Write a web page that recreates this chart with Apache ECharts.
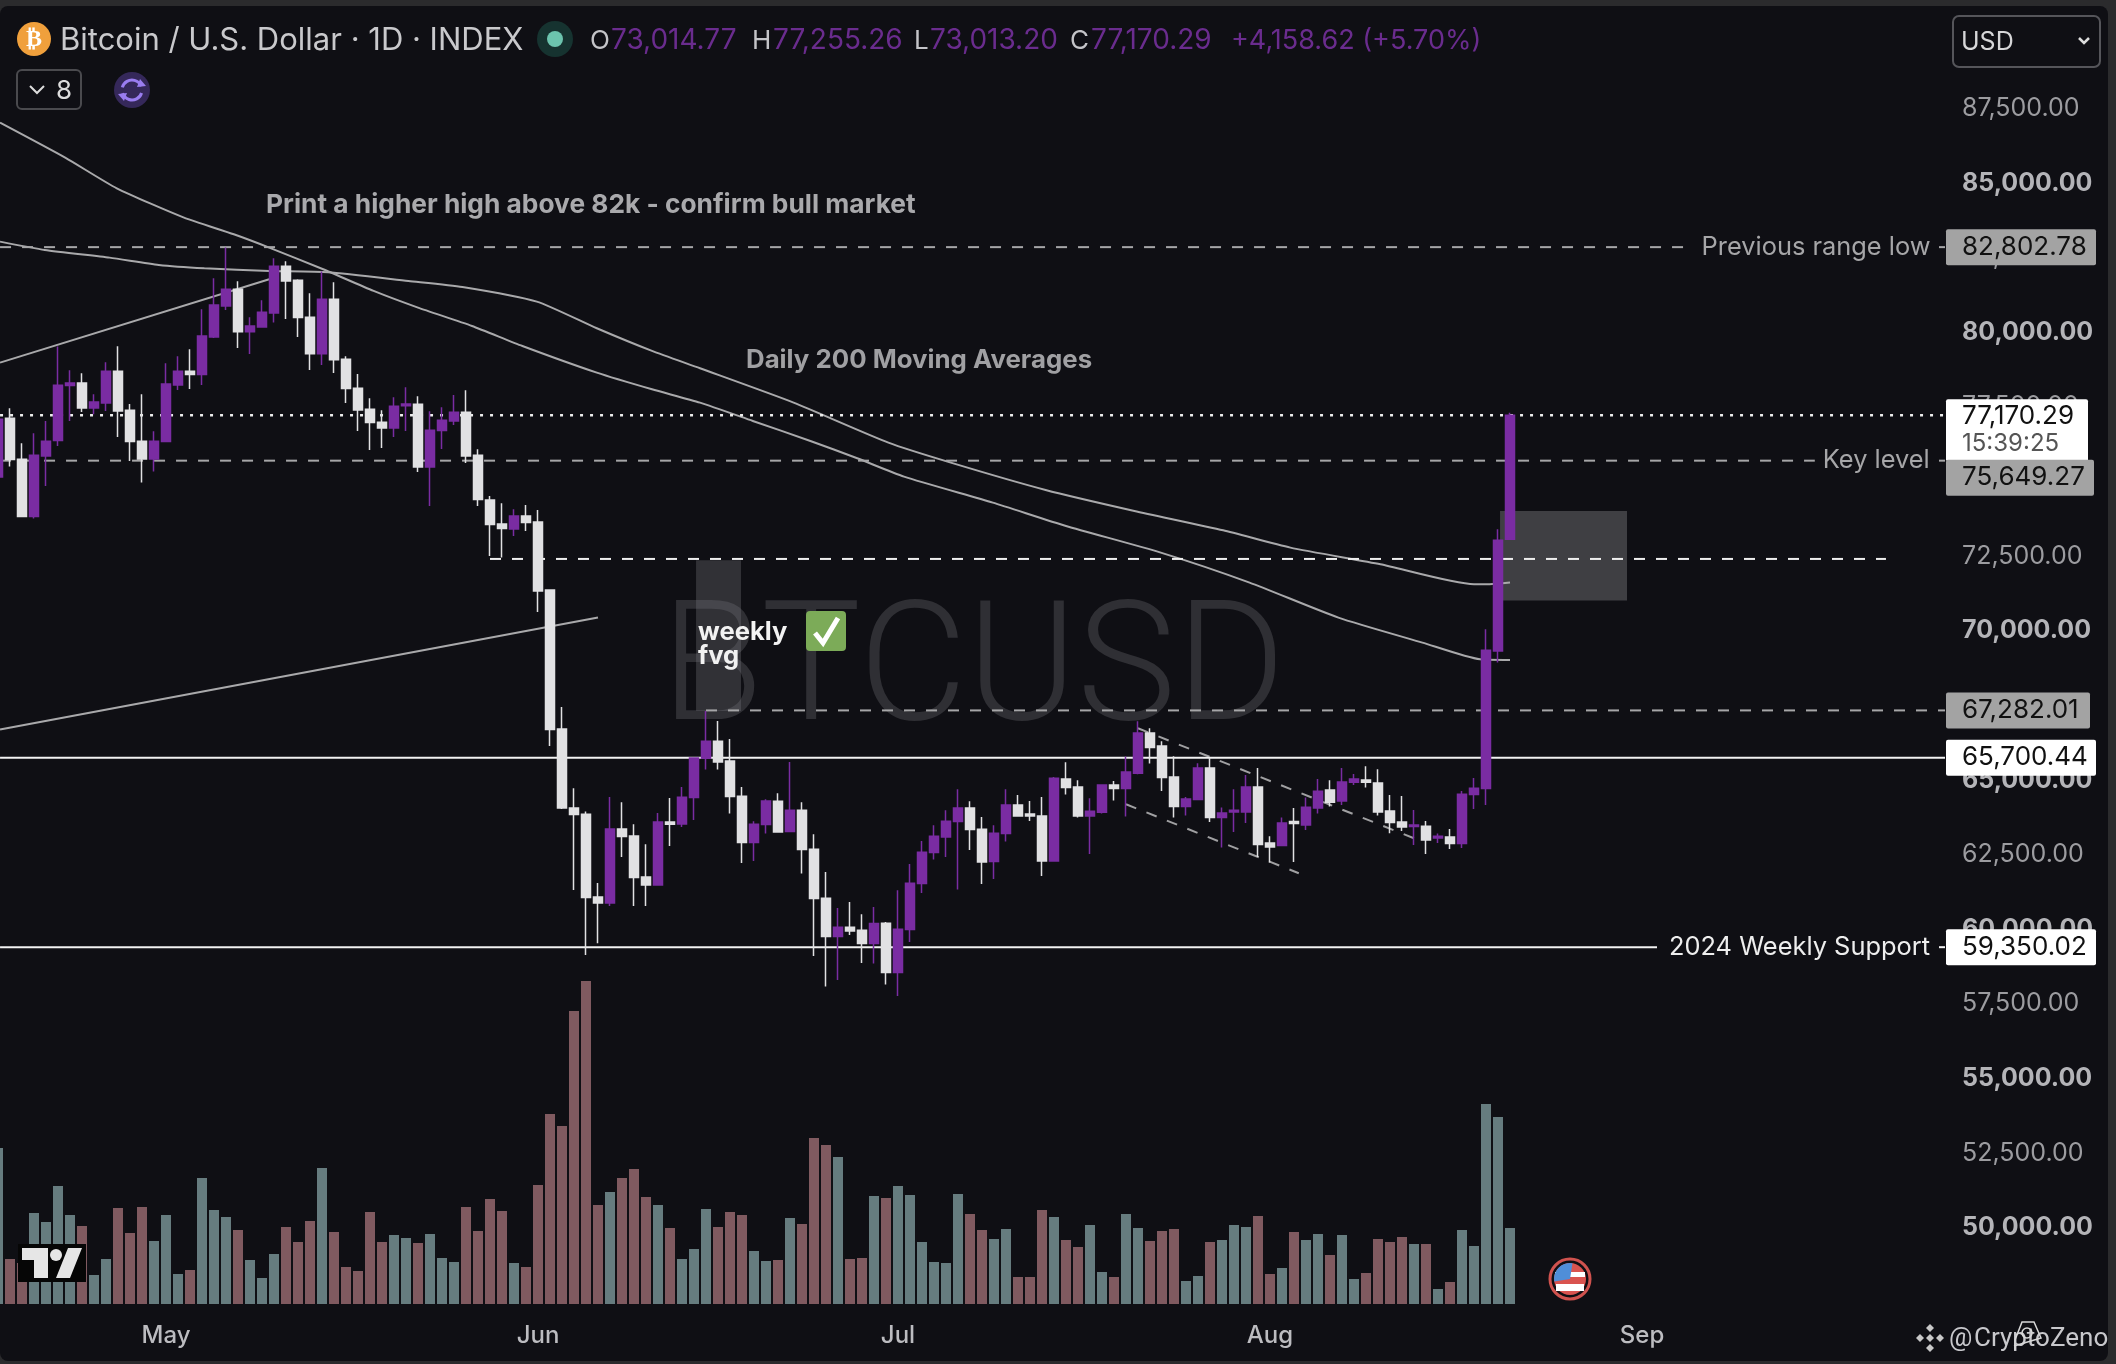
<!DOCTYPE html>
<html><head><meta charset="utf-8">
<style>html,body{margin:0;padding:0;background:#2b2b2d;overflow:hidden;width:2116px;height:1364px}#c{position:absolute;left:-8px;top:0;width:2124px;height:1364px}</style>
<script src="https://cdn.jsdelivr.net/npm/echarts@6/dist/echarts.min.js"></script>
</head><body><div id="c"></div>
<script>
const opens=[75104,77069,75696,73775,75807,76321,78164,78253,77415,77583,78644,77337,76299,75707,76287,78186,78644,78532,79794,80832,81391,79972,80129,80598,82161,81692,80453,79235,81056,79046,78074,77371,76935,76745,77493,77538,75439,76656,76980,77270,75830,74333,73529,73362,73797,73596,71318,66662,64015,63803,61034,60833,63312,63077,61704,61436,63546,63479,64362,65679,66249,65590,64406,62854,63457,64239,63222,63937,62630,60989,59705,60017,59917,59470,60151,58499,59939,61480,62519,63044,63557,64015,63300,62218,63155,64116,63814,63747,62240,64987,64719,63747,63870,64786,64663,65177,66528,66092,65054,64060,64295,65355,63692,63881,63881,64719,62843,62754,63557,63446,64015,64618,64250,64875,64953,64853,63915,63546,63390,63401,63010,63044,62821,64462,64663,69275,73014.77];
const closes=[77036,75684,73775,75830,76299,78175,78253,77415,77616,78644,77315,76287,75707,76299,78219,78644,78532,79827,80866,81391,79972,80162,80620,82161,81670,80442,79235,81056,79034,78063,77348,76924,76745,77471,77549,75439,76667,77002,77270,75807,74344,73507,73373,73797,73574,71285,66640,64015,63792,61011,60833,63312,63055,61681,61436,63546,63468,64373,65690,66249,65556,64395,62854,63468,64250,63211,63937,62619,60978,59705,60017,59895,59470,60140,58499,59950,61492,62530,63066,63569,64015,63289,62206,63167,64116,63747,63747,62240,65009,64697,63747,63904,64786,64663,65221,66528,66037,65032,64060,64317,65355,63692,63848,63937,64719,62787,62709,63513,63491,64038,64574,64205,64886,64987,64875,63881,63524,63379,63446,62943,63066,62821,64473,64674,69297,72982,77170.29];
const lows=[75050,75450,73750,73708,74802,76142,76980,77281,77203,77315,76444,75640,74914,75282,76287,78018,78052,78186,79760,80698,79425,79224,80107,80274,80397,79794,78688,78856,78588,77583,76645,76008,76075,76444,76645,75271,74132,76042,76846,75573,74132,72457,72402,73127,73295,70581,66092,63982,61268,59091,59482,60732,62374,60732,60732,61436,62742,63379,63613,65299,65299,63825,62173,62240,63155,63189,63222,61815,59057,58030,58253,59761,58822,58800,58097,57717,59526,61168,62284,62374,61279,62608,61470,61636,62887,63747,63580,61737,62217,64462,63692,62474,63826,64261,63725,65143,65501,64585,63692,63759,64272,63546,62687,63211,63513,62374,62184,62754,62206,63278,63826,64060,64116,64786,64697,63759,63167,63245,62776,62474,62843,62642,62675,63982,64116,68884,73013.20];
const highs=[77315,77404,76232,76567,76980,79470,78677,78577,77873,78945,79481,77549,77873,76634,78912,79146,79381,80721,81759,82787,81659,80453,81022,82429,82329,81726,81257,81983,81625,79146,78554,77739,77337,77773,78108,77806,77304,77438,77851,78007,76031,74467,74222,74021,74166,74000,71318,67399,64674,63892,61503,64384,64205,63468,62798,63848,64350,64719,65701,67265,66930,66327,64719,63569,64306,64507,65556,64205,63133,61871,60665,60866,60453,60699,60196,61257,62139,62910,63435,63937,64641,64239,63714,63435,64641,64451,64250,64384,65054,65545,64942,64339,64808,64920,65735,66919,66684,66249,65746,64384,65512,65702,64026,64641,65121,65355,63066,63692,64015,64361,64987,64942,65355,65154,65411,65311,64451,64417,63949,63580,63155,63312,64585,65020,70001,73351,77255.26];
const volumes=[156,45,41,91,82,118,89,78,29,45,96,71,97,63,89,30,34,126,94,87,74,44,26,50,77,62,83,136,72,37,33,92,62,69,66,61,70,46,42,97,73,105,93,41,37,119,190,178,293,323,99,112,126,135,107,99,76,45,55,95,77,92,89,53,43,44,86,80,166,159,147,45,46,108,106,118,109,62,42,41,110,90,74,65,75,27,27,94,87,64,57,79,32,27,90,76,63,73,75,23,28,62,64,79,77,88,30,36,72,64,70,49,69,25,31,65,62,67,60,60,15,22,74,58,200,187,76];
const maUpper=[[0.17,86974],[5.6,85802],[9.9,84774],[15.5,83792],[19.65,83233],[22.6,82787],[27.1,82061],[31.3,81335],[35,80776],[39.5,80162],[43.7,79492],[49.9,78599],[54.5,78040],[58.5,77594],[62.9,76980],[67.7,76310],[71.6,75729],[75.5,75115],[82.9,74244],[89,73462],[96.9,72569],[104.3,71564],[111.7,70391],[118.7,69554],[123.5,68995],[126,68973]];
const maLower=[[0.17,82987],[3.9,82708],[9.3,82451],[13.4,82206],[17.2,82094],[22.6,82005],[27.5,81960],[34.2,81670],[38.7,81469],[44.9,80977],[49.9,80084],[54.5,79325],[58.5,78744],[66.3,77594],[74.2,76254],[79.4,75584],[87.3,74668],[94.7,73965],[102.1,73317],[107.7,72736],[115.2,72178],[123,71508],[124.3,71508],[126,71564]];
const trendA=[[0.17,78934],[22.6,81726]];
const trendB=[[0.17,66640],[50,70392]];
const channelUpper=[[95,66684],[118,62999]];
const channelLower=[[94,64138],[108.4,61826]];
const levels={prevLow:82802.78,last:77170.29,key:75649.27,mid:72357,fvgLow:67282.01,res:65700.44,sup:59350.02};
const zoneRight=[125.17,135.75,70961,73965];
const zoneFvg=[58.17,61.92,67265,72312];
const monthTicks={14:'May',45:'Jun',75:'Jul',106:'Aug',137:'Sep'};
const yMin=47500,yMax=90000,yStep=2500;
const totalBars=163;
const categories=[];
{const d=new Date(Date.UTC(2024,3,17));for(let i=0;i<totalBars;i++){categories.push(d.toISOString().slice(5,10));d.setUTCDate(d.getUTCDate()+1);}}

const FONT='Inter';
const BG='#0f0f14',PURPLE='#7a2ca2',WHITE='#e1e1e3',GRAY='#a6a6a8',TAG='#a3a3a3';
const candle=opens.map((o,i)=>[o,closes[i],lows[i],highs[i]]);
const vol=volumes.map((v,i)=>({value:v,itemStyle:{color:closes[i]>=opens[i]?'#667c7f':'#805a60'}}));

function line(data,color,width,type,extra){return Object.assign({type:'line',xAxisIndex:1,yAxisIndex:0,data:data,symbol:'none',silent:true,clip:false,z:2,
  lineStyle:{color:color,width:width,type:type},animation:false},extra||{});}
function tag(text,bg,oy,w){return {show:true,formatter:text,backgroundColor:bg,color:'#111',fontFamily:FONT,fontSize:26,distance:1,width:w,overflow:'none',
  padding:[6,0,4,16],borderRadius:2,offset:[0,oy||0],align:'left',verticalAlign:'middle'};}
function side(text,color,dist){return {show:true,formatter:text,color:color,fontFamily:FONT,fontSize:25.4,distance:dist||8};}
const DASH=[11,11],DOT=[3,7];
const end=162.25;
const series=[
 {type:'candlestick',xAxisIndex:0,yAxisIndex:0,data:candle,barWidth:9,z:5,silent:true,animation:false,
  itemStyle:{color:PURPLE,color0:WHITE,borderColor:PURPLE,borderColor0:WHITE,borderWidth:1.5}},
 {type:'bar',xAxisIndex:2,yAxisIndex:1,data:vol,barWidth:10,z:3,silent:true,animation:false},
 line(maUpper,'#a9a9ab',2,'solid',{smooth:0.2}),
 line(maLower,'#a9a9ab',2,'solid',{smooth:0.2}),
 line(trendA,'#a9a9ab',2,'solid'),
 line(trendB,'#a9a9ab',2,'solid'),
 line(channelUpper,'#a0a0a2',2,DASH),
 line(channelLower,'#a0a0a2',2,DASH),
 line([[0.17,levels.prevLow],[141.3,levels.prevLow]],GRAY,2,DASH,{endLabel:side('Previous range low',GRAY)}),
 line([[161.75,levels.prevLow],[end,levels.prevLow]],GRAY,2,'solid',{endLabel:tag('82,802.78',TAG,0,134)}),
 line([[0.17,levels.last],[end,levels.last]],'#ececec',2.5,DOT,{endLabel:Object.assign(tag('{a|77,170.29}\n{b|15:39:25}','#fff',15,126),{rich:{a:{color:'#111',fontFamily:FONT,fontSize:26,lineHeight:28},b:{color:'#555',fontFamily:FONT,fontSize:24,lineHeight:28}},padding:[3,0,3,16]})}),
 line([[0.17,levels.key],[151.4,levels.key]],GRAY,2,DASH,{endLabel:side('Key level',GRAY)}),
 line([[161.75,levels.key],[end,levels.key]],GRAY,2,'solid',{endLabel:tag('75,649.27',TAG,17,132)}),
 line([[41,levels.mid],[157.33,levels.mid]],'#eeeeee',2,DASH),
 line([[59,levels.fvgLow],[end,levels.fvgLow]],GRAY,2,DASH,{endLabel:tag('67,282.01',TAG,0,128)}),
 line([[0.17,levels.res],[end,levels.res]],'#f2f2f2',2,'solid',{endLabel:tag('65,700.44','#fff',0,134)}),
 line([[0.17,levels.sup],[138.25,levels.sup]],'#f2f2f2',2,'solid',{endLabel:side('2024 Weekly Support','#eeeeee',12)}),
 line([[161.75,levels.sup],[end,levels.sup]],'#f2f2f2',2,'solid',{endLabel:tag('59,350.02','#fff',0,134)}),
 {type:'line',xAxisIndex:1,yAxisIndex:0,data:[],symbol:'none',silent:true,z:1,animation:false,
  markArea:{silent:true,animation:false,data:[
   [{coord:[zoneRight[0],zoneRight[3]],itemStyle:{color:'#3f3f43',opacity:1}},{coord:[zoneRight[1],zoneRight[2]]}],
   [{coord:[zoneFvg[0],zoneFvg[3]],itemStyle:{color:'rgba(120,120,126,0.32)',opacity:1}},{coord:[zoneFvg[1],zoneFvg[2]]}]
  ]}}
];

function T(x,y,s,size,color,weight,align,z,fam){return {type:'text',x:x,y:y,z:z===undefined?50:z,silent:true,style:{text:s,fontSize:size,fontFamily:fam||FONT,fontWeight:weight||400,fill:color,align:align||'left',verticalAlign:'middle'}};}
function C(cx,cy,r,fill,stroke,lw){return {type:'circle',z:50,silent:true,shape:{cx:cx,cy:cy,r:r},style:{fill:fill||'none',stroke:stroke||'none',lineWidth:lw||0}};}
function P(pts,fill,z){return {type:'polygon',z:z||51,silent:true,shape:{points:pts},style:{fill:fill}};}
function L(pts,stroke,w){return {type:'polyline',z:51,silent:true,shape:{points:pts},style:{stroke:stroke,lineWidth:w,fill:'none'}};}
function R(x,y,w,h,fill,stroke,lw,r,z){return {type:'rect',z:z===undefined?50:z,silent:true,shape:{x:x,y:y,width:w,height:h,r:r||0},style:{fill:fill||'none',stroke:stroke||'none',lineWidth:lw||0}};}
function D(cx,cy,s,fill){return P([[cx,cy-s],[cx+s,cy],[cx,cy+s],[cx-s,cy]],fill);}
const ohlcPurple='#6a2c8e',lbl='#c4c4c8';
const children=[
 R(0,6,2108,1355,BG,null,0,8,-10),
 T(661,677,'BTCUSD',167,'#2f2f34',300,'left',0,'Roboto'),
 C(34,39,17,'#f0a03c'),T(34,40,'₿',24,'#fff',700,'center',52,'DejaVu Sans'),
 T(60,41,'Bitcoin / U.S. Dollar · 1D · INDEX',31,'#c9c9cc',400),
 C(555,39,18,'#163330'),C(555,39,8,'#6cc4ae'),
 T(590,41,'O',26,lbl),T(611,41,'73,014.77',28,ohlcPurple),
 T(752,41,'H',26,lbl),T(773,41,'77,255.26',28,ohlcPurple),
 T(914,41,'L',26,lbl),T(930,41,'73,013.20',28,ohlcPurple),
 T(1070,41,'C',26,lbl),T(1091,41,'77,170.29',28,ohlcPurple),
 T(1231,41,'+4,158.62 (+5.70%)',27,ohlcPurple),
 R(17,70,64,39,null,'#4a4a4e',2,5),
 L([[30,86],[37,93],[44,86]],'#ddd',2),T(56,91,'8',26,'#ddd'),
 C(132,90,18,'#35285a'),
 {type:'arc',z:51,silent:true,shape:{cx:132,cy:90,r:10,startAngle:3.4,endAngle:5.9},style:{stroke:'#9a7df0',lineWidth:3,fill:'none'}},
 {type:'arc',z:51,silent:true,shape:{cx:132,cy:90,r:10,startAngle:0.3,endAngle:2.8},style:{stroke:'#9a7df0',lineWidth:3,fill:'none'}},
 P([[140,79],[146,86],[137,87]],'#9a7df0'),P([[124,101],[118,94],[127,93]],'#9a7df0'),
 R(1953,16,147,51,BG,'#55555a',2,6),T(1961,42,'USD',25,'#d6d6d8'),L([[2079,38],[2084,43],[2089,38]],'#ddd',2.5),
 T(266,205,'Print a higher high above 82k - confirm bull market',26.3,'#a9a9ac',700),
 T(746,360,'Daily 200 Moving Averages',25.8,'#a0a0a3',700),
 T(698,632,'weekly',25.6,'#f2f2f2',700),T(698,656,'fvg',25.6,'#f2f2f2',700),
 R(806,611,40,40,'#7cab58',null,0,4),L([[815,633],[823,643],[838,618]],'#fff',5),
 R(18,1244,68,38,'#060606',null,0,0,49),
 P([[22,1248],[48,1248],[48,1278],[34,1278],[34,1260],[22,1260]],'#e6e6e6'),C(56,1255,6,'#e6e6e6'),
 P([[68,1248],[82,1248],[70,1278],[56,1278]],'#e6e6e6'),
 C(1570,1279,20,'#0f0f14','#d0524e',3),C(1570,1279,16,'#d9534f'),
 R(1555,1272,30,5,'#fff'),R(1556,1284,28,7,'#fff'),
 {type:'sector',z:51,silent:true,shape:{cx:1570,cy:1279,r:16,r0:0,startAngle:Math.PI*0.95,endAngle:Math.PI*1.55},style:{fill:'#4f8ed8'}},
 D(1930,1338,4,'#c8c8c8'),D(1930,1328,4,'#c8c8c8'),D(1930,1348,4,'#c8c8c8'),D(1920,1338,4,'#c8c8c8'),D(1940,1338,4,'#c8c8c8'),
 T(1949,1339,'@',26,'#c8c8cc',400,'left',50,'Roboto'),T(1974,1339,'CryptoZeno',26,'#c8c8cc',400,'left',50,'Roboto'),
 L([[2015,1350],[2015,1340],[2022,1322],[2034,1322],[2041,1338],[2014,1346]],'#d8d8d8',1.5),C(2027,1333,5,null,'#d8d8d8',1.5)
];
const chart=echarts.init(document.getElementById('c'),null,{renderer:'canvas'});
chart.setOption({
 animation:false,backgroundColor:'#2b2b2d',
 grid:[{left:0,width:1956,top:32.3,height:1268.6,containLabel:false},{left:0,width:1956,top:974,height:330}],
 xAxis:[
  {type:'category',gridIndex:0,data:categories,show:false,boundaryGap:true},
  {type:'value',gridIndex:0,min:-0.5,max:162.5,show:false},
  {type:'category',gridIndex:1,data:categories,boundaryGap:true,axisLine:{show:false},axisTick:{show:false},splitLine:{show:false},
   axisLabel:{interval:i=>monthTicks[i]!==undefined,formatter:(v,i)=>monthTicks[i]||'',color:'#bcbcc0',fontFamily:FONT,fontSize:24,fontWeight:500,margin:20,hideOverlap:false}}
 ],
 yAxis:[
  {type:'value',gridIndex:0,position:'right',min:yMin,max:yMax,interval:yStep,axisLine:{show:false},axisTick:{show:false},splitLine:{show:false},z:0,
   axisLabel:{margin:14,align:'left',showMinLabel:true,showMaxLabel:true,
    formatter:v=>{if(v===yMin||v===yMax)return '';const s=v.toLocaleString('en-US',{minimumFractionDigits:2});return (v%5000===0?'{b|':'{r|')+s+'}';},
    rich:{b:{color:'#b4b4b8',fontFamily:FONT,fontSize:25,fontWeight:700,padding:[3,0,0,0]},r:{color:'#9c9ca0',fontFamily:FONT,fontSize:25,fontWeight:400,padding:[3,0,0,0]}}}},
  {type:'value',gridIndex:1,min:0,max:330,show:false}
 ],
 series:series,
 graphic:[{type:'group',x:8,y:0,z:50,silent:true,children:children}]
});
</script></body></html>
